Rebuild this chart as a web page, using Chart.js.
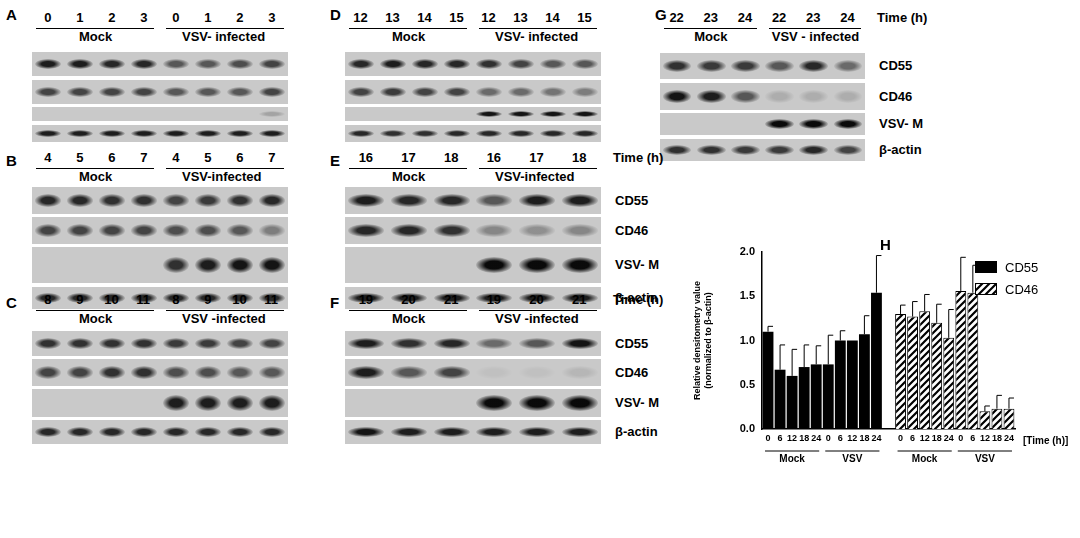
<!DOCTYPE html>
<html>
<head>
<meta charset="utf-8">
<script src="https://cdn.jsdelivr.net/npm/chart.js@4.4.0/dist/chart.umd.min.js"></script>
<style>
  body { margin: 0; width: 1080px; height: 538px; background: #fff; position: relative; overflow: hidden;
         font-family: Arial, "Liberation Sans", sans-serif; font-weight: bold; }
  .t { position: absolute; font-size: 13px; white-space: nowrap; }
  .pl { position: absolute; font-size: 15px; }
  .ln { position: absolute; height: 1px; background: #000; }
  .strip { position: absolute; background: #c9c9c9; overflow: hidden; }
  .band { position: absolute; border-radius: 50%; }
  #wrap { position: absolute; left: 690px; top: 240px; width: 390px; height: 230px; }
</style>
</head>
<body>
<div id="wrap"><canvas id="c"></canvas></div>
<script>
// bar chart data (panel H)
const times = ['0', '6', '12', '18', '24'];
const cd55 = [1.10, 0.67, 0.60, 0.70, 0.73, 0.73, 1.00, 1.00, 1.07, 1.54];
const cd55Err = [0.06, 0.28, 0.30, 0.25, 0.21, 0.33, 0.11, 0.00, 0.21, 0.42];
const cd46 = [1.30, 1.27, 1.33, 1.20, 1.03, 1.56, 1.54, 0.20, 0.23, 0.23];
const cd46Err = [0.10, 0.17, 0.19, 0.21, 0.32, 0.38, 0.31, 0.06, 0.15, 0.12];
const yTicks = [0, 0.5, 1.0, 1.5, 2.0];

const labels = [...times, ...times, '', ...times, ...times];
const cd55Data = [...cd55, ...Array(11).fill(null)];
const cd46Data = [...Array(11).fill(null), ...cd46];
const errs = [...cd55Err, null, ...cd46Err];

// simple blot panels
function txt(x, y, s, cls) {
  const d = document.createElement('div');
  d.className = cls || 't'; d.style.left = x + 'px'; d.style.top = y + 'px'; d.textContent = s;
  document.body.appendChild(d);
}
function line(x, y, w) {
  const d = document.createElement('div');
  d.className = 'ln'; d.style.left = x + 'px'; d.style.top = y + 'px'; d.style.width = w + 'px';
  document.body.appendChild(d);
}
function strip(x, y, w, h, lanes, dark, bh) {
  const s = document.createElement('div');
  s.className = 'strip';
  Object.assign(s.style, { left: x + 'px', top: y + 'px', width: w + 'px', height: h + 'px' });
  const lw = w / lanes.length;
  lanes.forEach((v, i) => {
    if (!v) return;
    const b = document.createElement('div');
    b.className = 'band';
    const hh = bh || h * 0.45;
    Object.assign(b.style, { left: (i * lw + lw * 0.08) + 'px', width: (lw * 0.84) + 'px',
      top: (h / 2 - hh / 2) + 'px', height: hh + 'px',
      background: `radial-gradient(ellipse, rgba(0,0,0,${v * dark}) 35%, rgba(0,0,0,0) 75%)` });
    s.appendChild(b);
  });
  document.body.appendChild(s);
}
function panel(p) {
  txt(p.lx, p.ly, p.name, 'pl');
  const n = p.nums.length, half = n / 2, lw = p.w / n;
  p.nums.forEach((s, i) => txt(p.x + i * lw + lw / 2 - 5 * s.length / 1.3, p.ny, s));
  line(p.x + 4, p.ny + 18, lw * half - 10);
  line(p.x + lw * half + 6, p.ny + 18, lw * half - 10);
  txt(p.x + lw * half / 2 - 17, p.ny + 19, 'Mock');
  txt(p.x + lw * half + lw * half / 2 - 42, p.ny + 19, p.inf);
  p.strips.forEach(st => strip(p.x, st[0], p.w, st[1], st[2], st[3] || 0.95, st[4]));
  if (p.side) {
    txt(p.x + p.w + 12, p.ny, 'Time (h)');
    const nm = ['CD55', 'CD46', 'VSV- M', 'β-actin'];
    p.strips.forEach((st, i) => txt(p.x + p.w + 14, st[0] + st[1] / 2 - 8, nm[i]));
  }
}
const four = (a, b, c, d) => [[52, 24, a], [80, 24, b], [107, 14, c], [125, 17, d]];
panel({ name: 'A', lx: 6, ly: 6, x: 32, w: 256, ny: 10, inf: 'VSV- infected', nums: ['0','1','2','3','0','1','2','3'],
  strips: four([.9,.9,.85,.85,.6,.6,.65,.7],[.7,.7,.7,.7,.6,.6,.6,.7],[0,0,0,0,0,0,0,.2],[.9,.9,.9,.9,.9,.9,.9,.9]) });
panel({ name: 'D', lx: 330, ly: 6, x: 345, w: 256, ny: 10, inf: 'VSV- infected', nums: ['12','13','14','15','12','13','14','15'],
  strips: four([.85,.9,.85,.85,.8,.7,.6,.6],[.7,.75,.7,.7,.5,.5,.45,.4],[0,0,0,0,.95,.95,.95,.95],[.85,.8,.8,.85,.85,.85,.85,.85]) });
panel({ name: 'G', lx: 655, ly: 6, x: 660, w: 205, ny: 10, inf: 'VSV - infected', nums: ['22','23','24','22','23','24'], side: true,
  strips: [[53, 26, [.8,.75,.75,.6,.85,.5]], [83, 27, [.95,.9,.6,.15,.15,.15]], [113, 22, [0,0,0,1,1,1]], [139, 22, [.8,.8,.75,.75,.85,.7]]] });
const lowB = (a, b, c, d) => [[187, 27, a], [217, 27, b], [247, 36, c, .95, 16], [287, 22, d]];
const lowC = (a, b, c, d) => [[331, 25, a], [359, 27, b], [389, 28, c, .95, 16], [420, 24, d]];
panel({ name: 'B', lx: 6, ly: 152, x: 32, w: 256, ny: 150, inf: 'VSV-infected', nums: ['4','5','6','7','4','5','6','7'],
  strips: lowB([.85,.85,.8,.8,.7,.75,.8,.85],[.7,.7,.7,.7,.65,.65,.6,.4],[0,0,0,0,.8,.9,.95,.95],[.85,.85,.85,.85,.85,.85,.85,.85]) });
panel({ name: 'E', lx: 330, ly: 152, x: 345, w: 256, ny: 150, inf: 'VSV-infected', nums: ['16','17','18','16','17','18'], side: true,
  strips: lowB([.9,.85,.85,.6,.9,.9],[.85,.85,.8,.35,.3,.35],[0,0,0,1,1,1],[.9,.9,.9,.9,.9,.9]) });
panel({ name: 'C', lx: 6, ly: 294, x: 32, w: 256, ny: 292, inf: 'VSV -infected', nums: ['8','9','10','11','8','9','10','11'],
  strips: lowC([.8,.8,.8,.8,.75,.75,.7,.7],[.7,.7,.8,.8,.65,.65,.6,.6],[0,0,0,0,.9,.9,.9,.9],[.85,.85,.85,.85,.85,.85,.85,.85]) });
panel({ name: 'F', lx: 330, ly: 294, x: 345, w: 256, ny: 292, inf: 'VSV -infected', nums: ['19','20','21','19','20','21'], side: true,
  strips: lowC([.9,.8,.85,.5,.6,.95],[.9,.6,.7,.05,.05,.1],[0,0,0,1,1,1],[.95,.9,.9,.9,.9,.9]) });
txt(880, 236, 'H', 'pl');

// hatch pattern for CD46
const pc = document.createElement('canvas');
pc.width = 7; pc.height = 7;
const px = pc.getContext('2d');
px.fillStyle = '#fff'; px.fillRect(0, 0, 7, 7);
px.strokeStyle = '#000'; px.lineWidth = 2.2;
px.beginPath(); px.moveTo(-1, 8); px.lineTo(8, -1); px.moveTo(-1, 1); px.lineTo(1, -1); px.moveTo(6, 8); px.lineTo(8, 6); px.stroke();
const hatch = document.getElementById('c').getContext('2d').createPattern(pc, 'repeat');

const errorBars = {
  id: 'errorBars',
  afterDatasetsDraw(chart) {
    const ctx = chart.ctx, y = chart.scales.y;
    ctx.save(); ctx.strokeStyle = '#000'; ctx.lineWidth = 1;
    chart.data.datasets.forEach((ds, di) => {
      chart.getDatasetMeta(di).data.forEach((bar, i) => {
        if (ds.data[i] == null || !errs[i]) return;
        const yt = y.getPixelForValue(ds.data[i] + errs[i]);
        ctx.beginPath();
        ctx.moveTo(bar.x, bar.y); ctx.lineTo(bar.x, yt);
        ctx.moveTo(bar.x, yt); ctx.lineTo(bar.x + 5, yt);
        ctx.stroke();
      });
    });
    ctx.restore();
  }
};
const groups = {
  id: 'groups',
  afterDraw(chart) {
    const ctx = chart.ctx, x = chart.scales.x, yb = chart.chartArea.bottom;
    ctx.save(); ctx.fillStyle = '#000'; ctx.strokeStyle = '#000'; ctx.lineWidth = 1;
    ctx.font = 'bold 10px Arial'; ctx.textAlign = 'center';
    [[0, 'Mock'], [5, 'VSV'], [11, 'Mock'], [16, 'VSV']].forEach(([s, t]) => {
      const a = x.getPixelForValue(s) - 5, b = x.getPixelForValue(s + 4) + 5;
      ctx.beginPath(); ctx.moveTo(a + 2, yb + 22); ctx.lineTo(b - 2, yb + 22); ctx.stroke();
      ctx.fillText(t, (a + b) / 2, yb + 33);
    });
    ctx.textAlign = 'left';
    ctx.fillText('[Time (h)]', chart.chartArea.right + 8, yb + 15);
    // legend
    ctx.font = '13px Arial';
    ctx.fillStyle = '#000'; ctx.fillRect(285, 21, 22, 12);
    ctx.fillStyle = hatch; ctx.fillRect(285, 43, 22, 12); ctx.strokeRect(285.5, 43.5, 21, 11);
    ctx.fillStyle = '#000';
    ctx.fillText('CD55', 315, 32); ctx.fillText('CD46', 315, 54);
    ctx.restore();
  }
};

new Chart(document.getElementById('c'), {
  type: 'bar',
  data: {
    labels: labels,
    datasets: [
      { label: 'CD55', data: cd55Data, backgroundColor: '#000', borderColor: '#000', borderWidth: 0 },
      { label: 'CD46', data: cd46Data, backgroundColor: hatch, borderColor: '#000', borderWidth: 1 }
    ]
  },
  options: {
    responsive: true, maintainAspectRatio: false, animation: false,
    layout: { padding: { top: 12, right: 65 } },
    datasets: { bar: { grouped: false, categoryPercentage: 1, barPercentage: 0.9 } },
    plugins: { legend: { display: false }, tooltip: { enabled: false } },
    scales: {
      x: {
        grid: { display: false, drawTicks: false }, border: { color: '#000', width: 1.5 },
        ticks: { color: '#000', font: { size: 9, weight: 'bold' }, autoSkip: false, maxRotation: 0, padding: 4 },
        afterFit: s => { s.height = 41; }
      },
      y: {
        min: 0, max: 2, afterBuildTicks: s => { s.ticks = yTicks.map(v => ({ value: v })); },
        grid: { display: false, drawTicks: true, tickLength: 4, tickColor: '#000' }, border: { color: '#000', width: 1.5 },
        ticks: { color: '#000', font: { size: 11, weight: 'bold' }, callback: v => v.toFixed(1) },
        title: { display: true, text: ['Relative densitometry value', '(normalized to β-actin)'], color: '#000',
                 font: { size: 9, weight: 'bold' }, padding: 2 },
        afterFit: s => { s.width = 72; }
      }
    }
  },
  plugins: [errorBars, groups]
});
</script>
</body>
</html>
